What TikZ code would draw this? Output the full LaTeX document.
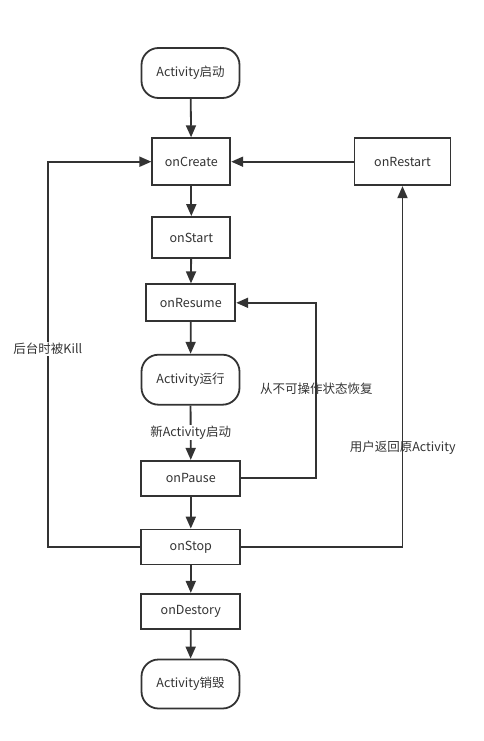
\documentclass[tikz,border=0pt]{standalone}
\usepackage{fontspec}
\setmainfont{Noto Sans CJK SC}
\usetikzlibrary{arrows.meta}
\definecolor{linegray}{HTML}{333333}

\begin{document}
\begin{tikzpicture}[x=1pt,y=-1pt,
  every node/.style={font=\fontsize{12.5}{15}\selectfont, text=linegray},
  box/.style={draw=linegray, line width=1.8pt, inner sep=0pt, fill=white},
  term/.style={box, rounded corners=17pt},
  arr/.style={draw=linegray, line width=1.8pt, -{Triangle[length=12pt,width=10pt]}},
  lbl/.style={fill=white, inner sep=1pt}]
  \useasboundingbox (0,0) rectangle (483,741);

  % main column
  \node [term, minimum width=98pt, minimum height=50pt] (start) at (190.5,73) {Activity启动};
  \node [box, minimum width=78pt, minimum height=47pt] (create) at (191.3,161.7) {onCreate};
  \node [box, minimum width=78pt, minimum height=41pt] (onstart) at (191.3,237.5) {onStart};
  \node [box, minimum width=89pt, minimum height=37pt] (resume) at (190.8,302.8) {onResume};
  \node [term, minimum width=98pt, minimum height=50pt] (run) at (190.5,379.7) {Activity运行};
  \node [box, minimum width=99pt, minimum height=35pt] (pause) at (190.8,478.3) {onPause};
  \node [box, minimum width=99pt, minimum height=35pt] (stop) at (190.8,547) {onStop};
  \node [box, minimum width=99pt, minimum height=35pt] (destroy) at (190.8,611.3) {onDestory};
  \node [term, minimum width=98pt, minimum height=49pt] (finish) at (190.5,684) {Activity销毁};

  \node [box, minimum width=96pt, minimum height=47pt] (restart) at (402.5,161.7) {onRestart};

  % bends of the loops
  \coordinate (killx) at (48.3,0);
  \coordinate (resumex) at (315.7,0);
  \coordinate (restartx) at (402.5,0);

  \draw [arr] (start) -- (create);
  \draw [arr] (create) -- (onstart);
  \draw [arr] (onstart) -- (resume);
  \draw [arr] (resume) -- (run);
  \draw [arr] (run) -- node [lbl] (newlbl) {新Activity启动} (pause);
  \draw [arr] (pause) -- (stop);
  \draw [arr] (stop) -- (destroy);
  \draw [arr] (destroy) -- (finish);
  \draw [arr] (restart) -- (create);

  \draw [arr] (stop.west) -- (stop.west -| killx) -- (create.west -| killx) -- (create.west);
  \draw [arr] (pause.east) -- (pause.east -| resumex) -- (resume.east -| resumex) -- (resume.east);
  \draw [arr] (stop.east) -- (stop.east -| restartx) -- (restart.south);

  \node [lbl] (killlbl) at (47.8,349) {后台时被Kill};
  \node [inner sep=0pt] (resumelbl) at (316.3,388.3) {从不可操作状态恢复};
  \node [inner sep=0pt] (restartlbl) at (402.7,447.3) {用户返回原Activity};

\end{tikzpicture}
\end{document}
